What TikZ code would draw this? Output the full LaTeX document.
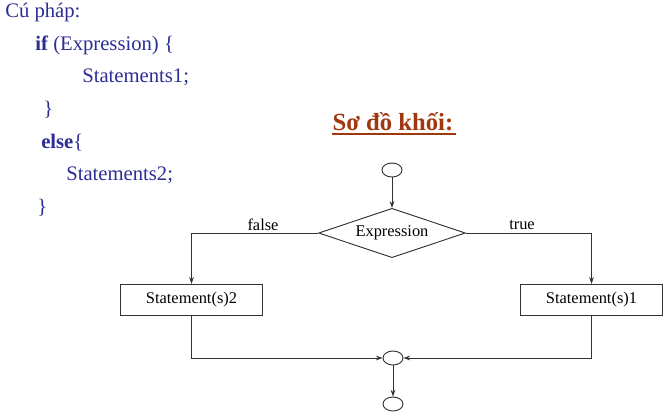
\documentclass[tikz,border=0pt]{standalone}
\usepackage{fontspec}
\setmainfont{Liberation Serif}
\usetikzlibrary{shapes.geometric,arrows.meta}
\definecolor{codeblue}{RGB}{45,45,150}
\definecolor{titlebrown}{RGB}{160,55,15}
\definecolor{linegray}{RGB}{50,50,50}
\tikzset{
  code/.style={anchor=base west,inner sep=0pt,text=codeblue,font=\fontsize{15.5}{18}\selectfont},
  term/.style={draw=linegray,ellipse,minimum width=15pt,minimum height=10.5pt,inner sep=0pt,line width=0.7pt},
  procbox/.style={draw=linegray,rectangle,minimum width=107pt,minimum height=23.5pt,inner sep=0pt,line width=0.7pt,font=\fontsize{12.3}{14}\selectfont},
  decision/.style={draw=linegray,diamond,aspect=3,minimum width=110pt,minimum height=37pt,inner sep=0pt,line width=0.7pt,font=\fontsize{12.3}{14}\selectfont},
  conn/.style={draw=linegray,line width=0.7pt,-{Stealth[length=5pt,width=3.5pt]}},
  lbl/.style={font=\fontsize{12.3}{14}\selectfont,inner sep=0pt}
}
\begin{document}
\begin{tikzpicture}[x=0.75pt,y=-0.75pt]
\useasboundingbox[fill=white] (0,0) rectangle (672,419);
% code
\node[code] (c0) at (5,17) {Cú pháp:};
\node[code] (c1) at (35,50) {\textbf{if} (Expression) \{};
\node[code] (c2) at (82,82) {Statements1;};
\node[code] (c3) at (43,115) {\}};
\node[code] (c4) at (41,148) {\textbf{else}\{};
\node[code] (c5) at (66,180) {Statements2;};
\node[code] (c6) at (37,213) {\}};
% title
\node[anchor=base,inner sep=0pt,text=titlebrown,font=\fontsize{18.5}{22}\selectfont\bfseries] (title) at (393,130) {Sơ đồ khối:};
\draw[titlebrown,line width=0.9pt] (title.base west)++(0,4) -- ++(124,0);
% flowchart
\node[term] (start) at (392,170) {};
\node[decision] (expr) at (392,233) {Expression};
\node[procbox] (s2) at (191.5,300) {Statement(s)2};
\node[procbox] (s1) at (591.5,300) {Statement(s)1};
\node[term] (join) at (393,358) {};
\node[term] (stop) at (393,404) {};
\draw[conn] (start) -- (expr);
\draw[conn] (expr.west) -| (s2.north);
\draw[conn] (expr.east) -| (s1.north);
\draw[conn] (s2.south) |- (join.west);
\draw[conn] (s1.south) |- (join.east);
\draw[conn] (join) -- (stop);
\node[lbl] (lf) at (263,225) {false};
\node[lbl] (lt) at (522,225) {true};
\end{tikzpicture}
\end{document}
